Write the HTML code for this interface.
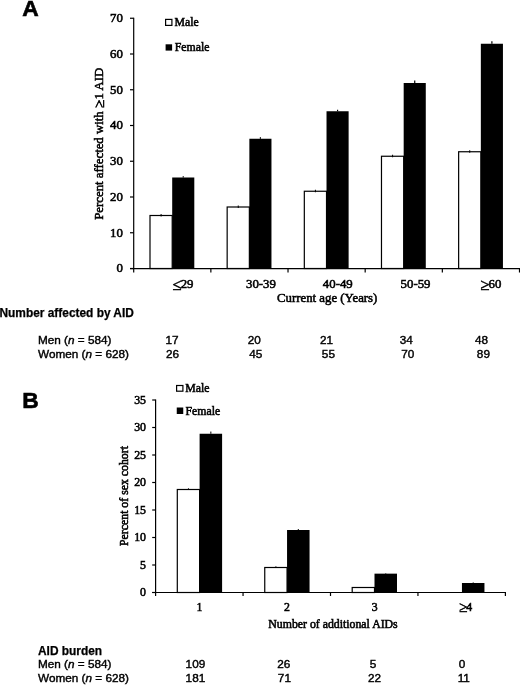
<!DOCTYPE html>
<html><head><meta charset="utf-8"><title>Figure</title>
<style>
html,body{margin:0;padding:0;background:#fff}
svg{display:block}
.t{font-family:"Liberation Serif",serif;font-size:11.8px;fill:#000;stroke:#000;stroke-width:0.55px}
.ta{font-size:12.8px}
.s{font-family:"Liberation Sans",sans-serif;font-size:11.75px;fill:#000;stroke:#000;stroke-width:0.42px}
.sb{font-family:"Liberation Sans",sans-serif;font-size:11.9px;font-weight:bold;fill:#000;stroke:#000;stroke-width:0.25px}
.big{font-family:"Liberation Sans",sans-serif;font-size:22.8px;font-weight:bold;fill:#000;stroke:#000;stroke-width:0.6px}
</style></head><body>
<svg width="520" height="685" viewBox="0 0 520 685">
<rect width="520" height="685" fill="#fff"/>
<g id="chartA">
<rect x="150.0" y="215.5" width="22.199" height="53.0" fill="#fff" stroke="#000" stroke-width="1.2"/>
<rect x="172.2" y="177.5" width="22.100" height="91.0" fill="#000"/>
<line x1="161.1" y1="214.0" x2="161.1" y2="216.5" stroke="#000" stroke-width="1"/>
<line x1="183.25" y1="176.2" x2="183.25" y2="177.5" stroke="#000" stroke-width="1.2"/>
<rect x="227.16" y="207" width="22.200" height="61.5" fill="#fff" stroke="#000" stroke-width="1.2"/>
<rect x="249.36" y="138.75" width="22.099" height="129.75" fill="#000"/>
<line x1="238.26" y1="205.5" x2="238.26" y2="208" stroke="#000" stroke-width="1"/>
<line x1="260.409" y1="137.25" x2="260.409" y2="138.75" stroke="#000" stroke-width="1.2"/>
<rect x="304.32" y="191.25" width="22.199" height="77.25" fill="#fff" stroke="#000" stroke-width="1.2"/>
<rect x="326.52" y="111.25" width="22.100" height="157.25" fill="#000"/>
<line x1="315.419" y1="189.75" x2="315.419" y2="192.25" stroke="#000" stroke-width="1"/>
<line x1="337.57" y1="109.75" x2="337.57" y2="111.25" stroke="#000" stroke-width="1.2"/>
<rect x="381.48" y="156.25" width="22.199" height="112.25" fill="#fff" stroke="#000" stroke-width="1.2"/>
<rect x="403.68" y="83" width="22.099" height="185.5" fill="#000"/>
<line x1="392.580" y1="154.75" x2="392.580" y2="157.25" stroke="#000" stroke-width="1"/>
<line x1="414.73" y1="80.5" x2="414.73" y2="83" stroke="#000" stroke-width="1.2"/>
<rect x="458.64" y="151.75" width="22.199" height="116.75" fill="#fff" stroke="#000" stroke-width="1.2"/>
<rect x="480.84" y="43.75" width="22.100" height="224.75" fill="#000"/>
<line x1="469.74" y1="150.25" x2="469.74" y2="152.75" stroke="#000" stroke-width="1"/>
<line x1="491.89" y1="41.25" x2="491.89" y2="43.75" stroke="#000" stroke-width="1.2"/>
<line x1="133.7" y1="17.7" x2="133.7" y2="272.5" stroke="#000" stroke-width="1.2"/>
<line x1="130" y1="268.7" x2="520" y2="268.7" stroke="#000" stroke-width="1.2"/>
<line x1="130" y1="268.5" x2="133.7" y2="268.5" stroke="#000" stroke-width="1.2"/>
<text transform="translate(122.8,272.3) scale(1.0,1)" text-anchor="end" class="t ta">0</text>
<line x1="130" y1="232.75" x2="133.7" y2="232.75" stroke="#000" stroke-width="1.2"/>
<text transform="translate(122.8,236.55) scale(1.0,1)" text-anchor="end" class="t ta">10</text>
<line x1="130" y1="197.0" x2="133.7" y2="197.0" stroke="#000" stroke-width="1.2"/>
<text transform="translate(122.8,200.8) scale(1.0,1)" text-anchor="end" class="t ta">20</text>
<line x1="130" y1="161.25" x2="133.7" y2="161.25" stroke="#000" stroke-width="1.2"/>
<text transform="translate(122.8,165.05) scale(1.0,1)" text-anchor="end" class="t ta">30</text>
<line x1="130" y1="125.5" x2="133.7" y2="125.5" stroke="#000" stroke-width="1.2"/>
<text transform="translate(122.8,129.3) scale(1.0,1)" text-anchor="end" class="t ta">40</text>
<line x1="130" y1="89.75" x2="133.7" y2="89.75" stroke="#000" stroke-width="1.2"/>
<text transform="translate(122.8,93.55) scale(1.0,1)" text-anchor="end" class="t ta">50</text>
<line x1="130" y1="54.0" x2="133.7" y2="54.0" stroke="#000" stroke-width="1.2"/>
<text transform="translate(122.8,57.8) scale(1.0,1)" text-anchor="end" class="t ta">60</text>
<line x1="130" y1="18.25" x2="133.7" y2="18.25" stroke="#000" stroke-width="1.2"/>
<text transform="translate(122.8,22.05) scale(1.0,1)" text-anchor="end" class="t ta">70</text>
<line x1="210.86" y1="268.5" x2="210.86" y2="272.5" stroke="#000" stroke-width="1.2"/>
<line x1="288.02" y1="268.5" x2="288.02" y2="272.5" stroke="#000" stroke-width="1.2"/>
<line x1="365.18" y1="268.5" x2="365.18" y2="272.5" stroke="#000" stroke-width="1.2"/>
<line x1="442.34" y1="268.5" x2="442.34" y2="272.5" stroke="#000" stroke-width="1.2"/>
<line x1="519.50" y1="268.5" x2="519.50" y2="272.5" stroke="#000" stroke-width="1.2"/>
<text transform="translate(172.8,288.2) scale(1.0,1)" text-anchor="start" class="t ta"><tspan font-size="16.35" dy="1.6">≤</tspan><tspan dy="-1.6" dx="-1.09">29</tspan></text>
<text transform="translate(260.9,288.2) scale(1.0,1)" text-anchor="middle" class="t ta">30-39</text>
<text transform="translate(337.75,288.2) scale(1.0,1)" text-anchor="middle" class="t ta">40-49</text>
<text transform="translate(415.5,288.2) scale(1.0,1)" text-anchor="middle" class="t ta">50-59</text>
<text transform="translate(480.7,288.2) scale(1.0,1)" text-anchor="start" class="t ta"><tspan font-size="16.35" dy="1.6">≥</tspan><tspan dy="-1.6" dx="-1.09">60</tspan></text>
<text transform="translate(327.2,302) scale(1.0,1)" text-anchor="middle" class="t ta">Current age (Years)</text>
<text transform="translate(102.5,143.75) rotate(-90) scale(1.0,1)" text-anchor="middle" class="t ta">Percent affected with <tspan font-size="14.72" dy="1.2">≥</tspan><tspan dy="-1.2" dx="0.65">1 AID</tspan></text>
<rect x="165.6" y="19.4" width="6.3" height="6" fill="#fff" stroke="#000" stroke-width="1.2"/>
<text x="174.6" y="26.1" class="t">Male</text>
<rect x="165.6" y="44.3" width="6.5" height="6.3" fill="#000"/>
<text x="174.8" y="50.5" class="t">Female</text>
</g>
<text x="22.3" y="15.9" class="big">A</text>
<text x="-0.5" y="317.2" class="sb">Number affected by AID</text>
<text x="38" y="343.9" class="s">Men (<tspan font-style="italic">n</tspan> = 584)</text>
<text x="172" y="343.9" text-anchor="middle" class="s">17</text>
<text x="254.25" y="343.9" text-anchor="middle" class="s">20</text>
<text x="326.5" y="343.9" text-anchor="middle" class="s">21</text>
<text x="406.25" y="343.9" text-anchor="middle" class="s">34</text>
<text x="481.6" y="343.9" text-anchor="middle" class="s">48</text>
<text x="38" y="357.7" class="s">Women (<tspan font-style="italic">n</tspan> = 628)</text>
<text x="172.5" y="357.7" text-anchor="middle" class="s">26</text>
<text x="255.75" y="357.7" text-anchor="middle" class="s">45</text>
<text x="328.4" y="357.7" text-anchor="middle" class="s">55</text>
<text x="407.75" y="357.7" text-anchor="middle" class="s">70</text>
<text x="483.4" y="357.7" text-anchor="middle" class="s">89</text>
<g id="chartB">
<rect x="177.3" y="489.5" width="22.299" height="103.0" fill="#fff" stroke="#000" stroke-width="1.2"/>
<rect x="199.6" y="433.75" width="22.5" height="158.75" fill="#000"/>
<line x1="210.85" y1="431.55" x2="210.85" y2="433.75" stroke="#000" stroke-width="1"/>
<line x1="188.45" y1="488.3" x2="188.45" y2="489.5" stroke="#000" stroke-width="1"/>
<rect x="264.75" y="567.5" width="22.300" height="25.0" fill="#fff" stroke="#000" stroke-width="1.2"/>
<rect x="287.05" y="530" width="22.5" height="62.5" fill="#000"/>
<line x1="298.3" y1="529.0" x2="298.3" y2="530" stroke="#000" stroke-width="1"/>
<line x1="275.9" y1="566.3" x2="275.9" y2="567.5" stroke="#000" stroke-width="1"/>
<rect x="352.2" y="587.5" width="22.300" height="5.0" fill="#fff" stroke="#000" stroke-width="1.2"/>
<rect x="374.5" y="573.65" width="22.5" height="18.850" fill="#000"/>
<line x1="385.75" y1="573.05" x2="385.75" y2="573.65" stroke="#000" stroke-width="1"/>
<rect x="461.95" y="583" width="22.5" height="9.5" fill="#000"/>
<line x1="473.2" y1="582.4" x2="473.2" y2="583" stroke="#000" stroke-width="1"/>
<line x1="155.6" y1="399.4" x2="155.6" y2="596.0" stroke="#000" stroke-width="1.2"/>
<line x1="152.2" y1="592.5" x2="506" y2="592.5" stroke="#000" stroke-width="1.2"/>
<line x1="152.2" y1="592.5" x2="155.6" y2="592.5" stroke="#000" stroke-width="1.2"/>
<text x="146" y="596.3" text-anchor="end" class="t">0</text>
<line x1="152.2" y1="565.0" x2="155.6" y2="565.0" stroke="#000" stroke-width="1.2"/>
<text x="146" y="568.8" text-anchor="end" class="t">5</text>
<line x1="152.2" y1="537.5" x2="155.6" y2="537.5" stroke="#000" stroke-width="1.2"/>
<text x="146" y="541.3" text-anchor="end" class="t">10</text>
<line x1="152.2" y1="510.0" x2="155.6" y2="510.0" stroke="#000" stroke-width="1.2"/>
<text x="146" y="513.8" text-anchor="end" class="t">15</text>
<line x1="152.2" y1="482.5" x2="155.6" y2="482.5" stroke="#000" stroke-width="1.2"/>
<text x="146" y="486.3" text-anchor="end" class="t">20</text>
<line x1="152.2" y1="455.0" x2="155.6" y2="455.0" stroke="#000" stroke-width="1.2"/>
<text x="146" y="458.8" text-anchor="end" class="t">25</text>
<line x1="152.2" y1="427.5" x2="155.6" y2="427.5" stroke="#000" stroke-width="1.2"/>
<text x="146" y="431.3" text-anchor="end" class="t">30</text>
<line x1="152.2" y1="400.0" x2="155.6" y2="400.0" stroke="#000" stroke-width="1.2"/>
<text x="146" y="403.8" text-anchor="end" class="t">35</text>
<line x1="243.05" y1="592.5" x2="243.05" y2="596.0" stroke="#000" stroke-width="1.2"/>
<line x1="330.50" y1="592.5" x2="330.50" y2="596.0" stroke="#000" stroke-width="1.2"/>
<line x1="417.95" y1="592.5" x2="417.95" y2="596.0" stroke="#000" stroke-width="1.2"/>
<line x1="505.40" y1="592.5" x2="505.40" y2="596.0" stroke="#000" stroke-width="1.2"/>
<text x="199.5" y="610.5" text-anchor="middle" class="t">1</text>
<text x="287" y="610.5" text-anchor="middle" class="t">2</text>
<text x="374.8" y="610.5" text-anchor="middle" class="t">3</text>
<text x="459" y="610.5" class="t"><tspan font-size="15.0" dy="1.6">≥</tspan><tspan dy="-1.6" dx="-1.0">4</tspan></text>
<text x="333" y="628" text-anchor="middle" class="t">Number of additional AIDs</text>
<text transform="translate(128,496) rotate(-90)" text-anchor="middle" class="t">Percent of sex cohort</text>
<rect x="176.6" y="385.5" width="6.3" height="5.7" fill="#fff" stroke="#000" stroke-width="1.2"/>
<text x="185.3" y="391.9" class="t">Male</text>
<rect x="176.75" y="407.5" width="6.5" height="6.5" fill="#000"/>
<text x="185.5" y="414.5" class="t">Female</text>
</g>
<text x="22.2" y="408.0" class="big">B</text>
<text x="38" y="654.9" class="sb">AID burden</text>
<text x="38" y="668.4" class="s">Men (<tspan font-style="italic">n</tspan> = 584)</text>
<text x="195.4" y="668.4" text-anchor="middle" class="s">109</text>
<text x="283.75" y="668.4" text-anchor="middle" class="s">26</text>
<text x="373.1" y="668.4" text-anchor="middle" class="s">5</text>
<text x="461.9" y="668.4" text-anchor="middle" class="s">0</text>
<text x="38" y="682.1" class="s">Women (<tspan font-style="italic">n</tspan> = 628)</text>
<text x="195.4" y="682.1" text-anchor="middle" class="s">181</text>
<text x="284.4" y="682.1" text-anchor="middle" class="s">71</text>
<text x="374.6" y="682.1" text-anchor="middle" class="s">22</text>
<text x="463.75" y="682.1" text-anchor="middle" class="s">11</text>
</svg>
</body></html>
